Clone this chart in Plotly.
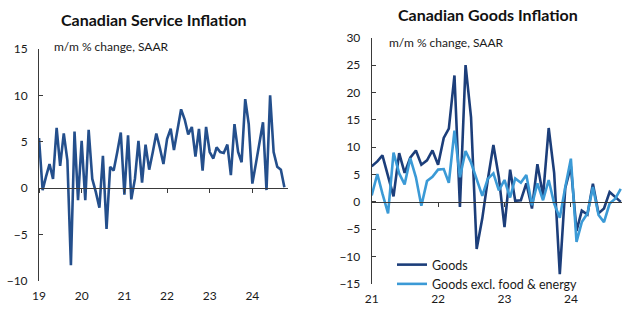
import pandas as pd
import plotly.graph_objects as go

# Canadian services CPI, m/m % change SAAR, Jan 2019 - Oct 2024
service_start = "2019-01-01"
service_values = [
    5.4, -0.2, 1.2, 2.6, 1.0, 6.5, 2.4, 5.9, 3.0, -8.3, 6.1, -1.3,
    5.1, -1.3, 6.3, 1.0, -0.4, -2.1, 3.5, -4.4, 2.3, 1.9, 3.9, 6.0,
    -0.7, 5.7, -1.2, 1.0, 5.1, 0.6, 4.7, 2.0, 3.9, 5.9, 4.3, 2.6,
    5.3, 6.4, 4.1, 6.3, 8.5, 7.4, 5.8, 6.6, 3.4, 6.4, 1.9, 6.6,
    3.9, 3.2, 4.4, 3.9, 3.8, 4.7, 1.4, 6.9, 3.9, 2.8, 9.6, 6.9,
    0.5, 2.7, 4.9, 7.1, -0.2, 10.0, 3.9, 2.3, 2.0, 0.1,
]

# Canadian goods CPI, m/m % change SAAR, Jan 2021 - Oct 2024
goods_start = "2021-01-01"
goods_values = [
    6.5, 7.4, 8.5, 4.5, 1.0, 8.9, 5.3, 8.1, 9.4, 6.8, 7.6, 9.4,
    6.8, 11.7, 13.4, 23.1, -0.9, 25.0, 15.5, -8.6, -3.0, 4.0, 10.4, 4.5,
    -4.6, 5.9, 0.2, 0.3, 3.4, -1.2, 6.9, 1.1, 13.5, 5.3, -13.2, 2.5,
    6.5, -5.3, -1.6, -2.3, 3.3, -2.1, -1.2, 1.8, 0.9, 0.0,
]
goods_core_values = [
    1.2, 5.1, 1.5, -2.1, 9.0, 5.2, 3.2, 8.0, 4.5, -0.7, 3.8, 4.6,
    5.9, 6.0, 3.5, 13.0, 4.5, 9.3, 7.2, 4.3, 1.1, 4.2, 5.2, 2.1,
    4.0, 0.8, 4.3, 3.5, 4.9, -0.6, 3.4, 0.3, 4.0, -0.3, -2.9, 2.7,
    7.9, -7.3, -3.7, -2.1, 2.7, -2.4, -3.7, -0.3, 0.6, 2.4,
]

chart_titles = ["Canadian Service Inflation", "Canadian Goods Inflation"]
unit_label = "m/m % change, SAAR"
series_names = ["Goods", "Goods excl. food & energy"]
year_ticks_left = ["2019-01-01", "2020-01-01", "2021-01-01", "2022-01-01", "2023-01-01", "2024-01-01"]
year_labels_left = ["19", "20", "21", "22", "23", "24"]
year_ticks_right = ["2021-01-01", "2022-01-01", "2023-01-01", "2024-01-01"]
year_labels_right = ["21", "22", "23", "24"]

service_dates = pd.date_range(service_start, periods=len(service_values), freq="MS")
goods_dates = pd.date_range(goods_start, periods=len(goods_values), freq="MS")

# figure size; layout positions below are given in pixels and converted
# to paper fractions
W, H = 640, 336


def px(x):
    return x / W


def py(y):
    return 1 - y / H


FONT = "Lato"
TXT = "#1a1a1a"
AXC = "#3a3a3a"
C_SERV = "#244f8c"
C_GOODS = "#1c3e7a"
C_CORE = "#3b9ad6"

# plot areas (paper fractions)
lx = [px(39), px(288)]
ly = [py(281), py(49)]
lr = [-10, 15]
rx = [px(371.7), px(622)]
ry = [py(284), py(37.7)]
rr = [-15, 30]


def zero_pos(dom, rng):
    return dom[0] + (0 - rng[0]) / (rng[1] - rng[0]) * (dom[1] - dom[0])


fig = go.Figure()

fig.add_trace(go.Scatter(x=service_dates, y=service_values, mode="lines",
                         line=dict(color=C_SERV, width=2.6), showlegend=False,
                         xaxis="x", yaxis="y"))
fig.add_trace(go.Scatter(x=goods_dates, y=goods_values, mode="lines", name=series_names[0],
                         line=dict(color=C_GOODS, width=2.6),
                         xaxis="x2", yaxis="y2"))
fig.add_trace(go.Scatter(x=goods_dates, y=goods_core_values, mode="lines", name=series_names[1],
                         line=dict(color=C_CORE, width=2.6),
                         xaxis="x2", yaxis="y2"))
# carriers for the zero-line axes
fig.add_trace(go.Scatter(x=service_dates, y=service_values, mode="lines", opacity=0,
                         showlegend=False, hoverinfo="skip", xaxis="x3", yaxis="y"))
fig.add_trace(go.Scatter(x=goods_dates, y=goods_values, mode="lines", opacity=0,
                         showlegend=False, hoverinfo="skip", xaxis="x4", yaxis="y2"))

tickfont = dict(family=FONT, size=12, color=TXT)

bottom_axis = dict(type="date", showline=False, ticks="", showgrid=False, zeroline=False,
                   tickfont=tickfont, ticklabelstandoff=6, automargin=False)
zero_axis = dict(type="date", showline=True, linecolor=AXC, linewidth=1, ticks="outside",
                 ticklen=4, tickwidth=1, tickcolor=AXC, showticklabels=False,
                 showgrid=False, zeroline=False, anchor="free", dtick="M12",
                 automargin=False)
y_axis = dict(showline=True, linecolor=AXC, linewidth=1, ticks="inside", ticklen=4,
              tickwidth=1, tickcolor=AXC, showgrid=False, zeroline=False,
              tickfont=tickfont, ticklabelstandoff=8, automargin=False)

fig.update_layout(
    width=W, height=H,
    margin=dict(l=0, r=0, t=0, b=0, autoexpand=False),
    paper_bgcolor="white", plot_bgcolor="white",
    xaxis=dict(bottom_axis, domain=lx, range=[service_start, "2024-11-01"], anchor="y",
               tickvals=year_ticks_left, ticktext=year_labels_left),
    yaxis=dict(y_axis, domain=ly, range=lr, anchor="x", dtick=5),
    xaxis2=dict(bottom_axis, domain=rx, range=[goods_start, "2024-10-08"], anchor="y2",
                tickvals=year_ticks_right, ticktext=year_labels_right),
    yaxis2=dict(y_axis, domain=ry, range=rr, anchor="x2", dtick=5),
    xaxis3=dict(zero_axis, overlaying="x", range=[service_start, "2024-11-01"],
                position=zero_pos(ly, lr), tick0=service_start),
    xaxis4=dict(zero_axis, overlaying="x2", range=[goods_start, "2024-10-08"],
                position=zero_pos(ry, rr), tick0=goods_start),
    legend=dict(x=px(392), y=py(250), xanchor="left", yanchor="top",
                bgcolor="rgba(0,0,0,0)", font=dict(family=FONT, size=12.5, color=TXT),
                tracegroupgap=0, itemwidth=30),
    showlegend=True,
)

fig.add_annotation(x=px(154), y=py(19), xref="paper", yref="paper",
                   text="<b>" + chart_titles[0] + "</b>", showarrow=False,
                   font=dict(family=FONT, size=16, color="#111"),
                   xanchor="center", yanchor="middle")
fig.add_annotation(x=px(488), y=py(15), xref="paper", yref="paper",
                   text="<b>" + chart_titles[1] + "</b>", showarrow=False,
                   font=dict(family=FONT, size=16, color="#111"),
                   xanchor="center", yanchor="middle")
fig.add_annotation(x=px(52), y=py(47), xref="paper", yref="paper", text=unit_label,
                   showarrow=False, font=dict(family=FONT, size=12, color=TXT),
                   xanchor="left", yanchor="middle")
fig.add_annotation(x=px(387), y=py(42), xref="paper", yref="paper", text=unit_label,
                   showarrow=False, font=dict(family=FONT, size=12, color=TXT),
                   xanchor="left", yanchor="middle")

fig.write_html("out.html")
